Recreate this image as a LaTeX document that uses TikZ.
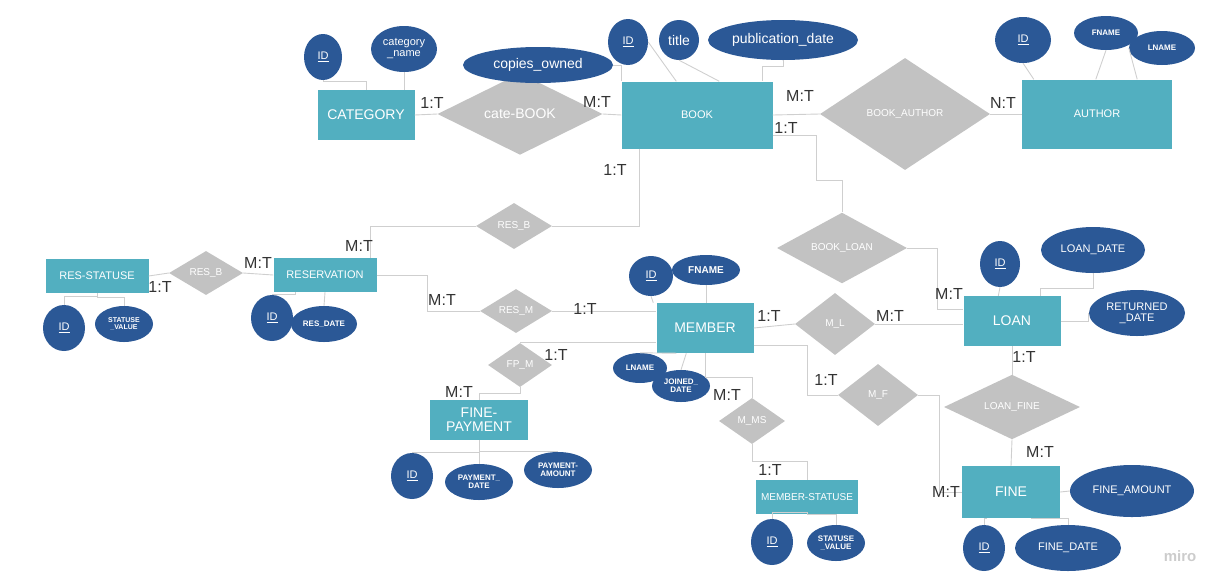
\documentclass[tikz,border=0pt]{standalone}
\usepackage{fontspec}
\setmainfont{Liberation Sans}
\usetikzlibrary{positioning, shapes.geometric, calc}
\definecolor{entcol}{HTML}{52AFC0}
\definecolor{relcol}{HTML}{C2C2C2}
\definecolor{attcol}{HTML}{2B5896}
\definecolor{linecol}{HTML}{CFCFCF}
\definecolor{cardcol}{HTML}{333333}
\newcommand{\fs}[1]{\fontsize{#1}{#1}\selectfont}

\begin{document}
\begin{tikzpicture}[
  x=1pt, y=-1pt,
  ent/.style={rectangle, fill=entcol, text=white, inner sep=0pt, align=center, font=\fs{11}},
  bigent/.style={ent, font=\fs{14}},
  rel/.style={diamond, fill=relcol, text=white, inner sep=0pt, font=\fs{10}},
  att/.style={ellipse, fill=attcol, text=white, inner sep=0pt, align=center, font=\fs{11}},
  smatt/.style={att, font=\fs{8}\bfseries},
  card/.style={text=cardcol, font=\fs{16}, inner sep=0pt},
  link/.style={draw=linecol, line width=0.9pt},
]
\useasboundingbox (0,0) rectangle (1209,574);

% entities
\node[bigent, minimum width=97, minimum height=50] (category) at (366,115) {CATEGORY};
\node[ent, minimum width=151, minimum height=67] (book) at (697,115) {BOOK};
\node[ent, minimum width=150, minimum height=69] (author) at (1097,114) {AUTHOR};
\node[ent, minimum width=103, minimum height=34] (resstatuse) at (97,276) {RES-STATUSE};
\node[ent, minimum width=103, minimum height=34] (reservation) at (325,275) {RESERVATION};
\node[bigent, minimum width=97, minimum height=50] (member) at (705,328) {MEMBER};
\node[bigent, minimum width=97, minimum height=50] (loan) at (1012,321) {LOAN};
\node[bigent, minimum width=98, minimum height=40] (finepay) at (479,420) {FINE-\\PAYMENT};
\node[ent, minimum width=102, minimum height=34, font=\fs{10}] (mstatuse) at (807,497) {MEMBER-STATUSE};
\node[bigent, minimum width=98, minimum height=52] (fine) at (1011,492) {FINE};

% relationships
\node[rel, minimum width=165, minimum height=50, font=\fs{14}] (catebook) at (520,114) {cate-BOOK};
\node[rel, minimum width=170, minimum height=112] (bookauthor) at (905,114) {BOOK\_AUTHOR};
\node[rel, minimum width=76, minimum height=46] (resbtop) at (514,226) {RES\_B};
\node[rel, minimum width=74, minimum height=44] (resbleft) at (206,273) {RES\_B};
\node[rel, minimum width=72, minimum height=44] (resm) at (516,311) {RES\_M};
\node[rel, minimum width=64, minimum height=44] (fpm) at (520,365) {FP\_M};
\node[rel, minimum width=130, minimum height=62] (bookloan) at (842,248) {BOOK\_LOAN};
\node[rel, minimum width=80, minimum height=62] (ml) at (835,324) {M\_L};
\node[rel, minimum width=80, minimum height=62] (mf) at (878,395) {M\_F};
\node[rel, minimum width=136, minimum height=62] (loanfine) at (1012,407) {LOAN\_FINE};
\node[rel, minimum width=66, minimum height=46] (mms) at (752,421) {M\_MS};

% attributes
\node[att, minimum width=38, minimum height=46] (catid) at (323,57) {\underline{ID}};
\node[att, minimum width=66, minimum height=46] (catname) at (404,49) {category\\\_name};
\node[att, minimum width=150, minimum height=36, font=\fs{14}] (copies) at (538,65) {copies\_owned};
\node[att, minimum width=40, minimum height=46] (bookid) at (628,42) {\underline{ID}};
\node[att, minimum width=40, minimum height=40, font=\fs{14}] (title) at (679,40) {title};
\node[att, minimum width=150, minimum height=40, font=\fs{14}] (pubdate) at (783,40) {publication\_date};
\node[att, minimum width=56, minimum height=46] (authid) at (1023,40) {\underline{ID}};
\node[smatt, minimum width=64, minimum height=34] (authfname) at (1106,33) {FNAME};
\node[smatt, minimum width=66, minimum height=34] (authlname) at (1162,48) {LNAME};
\node[att, minimum width=42, minimum height=46] (rsid) at (64,328) {\underline{ID}};
\node[smatt, minimum width=58, minimum height=36, font=\fs{7}\bfseries] (rsvalue) at (124,324) {STATUSE\\\_VALUE};
\node[att, minimum width=42, minimum height=46] (resid) at (272,318) {\underline{ID}};
\node[smatt, minimum width=66, minimum height=36] (resdate) at (324,324) {RES\_DATE};
\node[att, minimum width=44, minimum height=40] (memid) at (651,276) {\underline{ID}};
\node[smatt, minimum width=68, minimum height=30, font=\fs{10}\bfseries] (memfname) at (706,270) {FNAME};
\node[smatt, minimum width=54, minimum height=30] (memlname) at (640,368) {LNAME};
\node[smatt, minimum width=58, minimum height=32] (joined) at (681,386) {JOINED\_\\DATE};
\node[att, minimum width=40, minimum height=46] (loanid) at (1000,264) {\underline{ID}};
\node[att, minimum width=104, minimum height=46] (loandate) at (1093,250) {LOAN\_DATE};
\node[att, minimum width=96, minimum height=46] (retdate) at (1137,313) {RETURNED\\\_DATE};
\node[att, minimum width=42, minimum height=46] (fpid) at (412,476) {\underline{ID}};
\node[smatt, minimum width=68, minimum height=36] (paydate) at (479,482) {PAYMENT\_\\DATE};
\node[smatt, minimum width=68, minimum height=36] (payamount) at (558,470) {PAYMENT-\\AMOUNT};
\node[att, minimum width=42, minimum height=46] (msid) at (772,542) {\underline{ID}};
\node[smatt, minimum width=58, minimum height=36] (msvalue) at (836,543) {STATUSE\\\_VALUE};
\node[att, minimum width=42, minimum height=46] (fineid) at (984,548) {\underline{ID}};
\node[att, minimum width=106, minimum height=46] (finedate) at (1068,548) {FINE\_DATE};
\node[att, minimum width=124, minimum height=52] (fineamount) at (1132,491) {FINE\_AMOUNT};

% relationship links
\draw[link] (category.east) -- (catebook.west);
\draw[link] (catebook.east) -- (book.west);
\draw[link] (book.east) -- (bookauthor.west);
\draw[link] (bookauthor.east) -- (author.west);
\draw[link] ($(book.south west)+(18,0)$) |- (resbtop.east);
\draw[link] (resbtop.west) -| ($(reservation.north)+(45,0)$);
\draw[link] (reservation.west) -- (resbleft.east);
\draw[link] (resbleft.west) -- (resstatuse.east);
\draw[link] (reservation.east) -| ($(resm.west)+(-52,0)$) -- (resm.west);
\draw[link] (resm.east) -- (resm.east -| member.west);
\draw[link] (fpm.north) -- (fpm.north -| member.west);
\draw[link] (fpm.south) -- ++(0,6) -| (finepay.north);
\draw[link] (member.east) -- (ml.west);
\draw[link] (ml.east) -- (ml.east -| loan.west);
\draw[link] ($(member.east)+(0,17)$) -| ($(mf.west)+(-30,0)$) -- (mf.west);
\draw[link] (mf.east) -| ($(fine.west)+(-22,0)$) -- (fine.west);
\draw[link] (member.south) |- ($(mms.north)+(0,-20)$) -- (mms.north);
\draw[link] (mms.south) |- ($(mstatuse.north)+(0,-18)$) -- (mstatuse.north);
\draw[link] ($(book.east)+(0,20)$) -| ($(bookloan.north)+(-26,-32)$) -| (bookloan.north);
\draw[link] (bookloan.east) -| ($(loan.west)+(-26,-12)$) -- ($(loan.west)+(0,-12)$);
\draw[link] (loan.south) -- (loanfine.north);
\draw[link] (loanfine.south) -- (fine.north);

% attribute links
\draw[link] (catid.south) |- ($(category.north)+(0,-8)$) -- (category.north);
\draw[link] (catname.south) -- (catname.south |- category.north);
\draw[link] (copies.east) -| ($(book.north west)+(0,0)$);
\draw[link] (bookid.east) -- ($(book.north west)+(55,0)$);
\draw[link] (title.south) -- ($(book.north west)+(98,0)$);
\draw[link] (pubdate.south) |- ($(book.north east)+(-10,-15)$) -- ($(book.north east)+(-10,0)$);
\draw[link] (authid.south) -- ($(author.north west)+(12,0)$);
\draw[link] (authfname.south) -- ($(author.north west)+(74,0)$);
\draw[link] (authlname.west) -- ($(author.north east)+(-35,0)$);
\draw[link] (resstatuse.south) |- ($(rsid.north)+(0,-8)$) -- (rsid.north);
\draw[link] (resstatuse.south) |- ($(rsvalue.north)+(0,-8)$) -- (rsvalue.north);
\draw[link] ($(reservation.south)+(-30,0)$) |- (resid.north);
\draw[link] (reservation.south) -- (resdate.north);
\draw[link] (memid.south) -- ($(member.north west)+(-3,0)$);
\draw[link] (memfname.south) -- (memfname.south |- member.north);
\draw[link] ($(member.south west)+(20,0)$) -- (memlname.north);
\draw[link] ($(member.south west)+(30,0)$) -- (joined.north);
\draw[link] (loanid.south) -- ($(loan.north west)+(35,0)$);
\draw[link] (loandate.south) |- ($(loan.north east)+(-20,-7)$) -- ($(loan.north east)+(-20,0)$);
\draw[link] (loan.east) -| (retdate.west);
\draw[link] (finepay.south) |- (fpid.north);
\draw[link] (finepay.south) -- (paydate.north);
\draw[link] (finepay.south) |- (payamount.north);
\draw[link] (mstatuse.south) |- ($(msid.north)+(0,-6)$) -- (msid.north);
\draw[link] (mstatuse.south) -| (msvalue.north);
\draw[link] ($(fine.south west)+(25,0)$) |- ($(fineid.north)+(0,-6)$) -- (fineid.north);
\draw[link] ($(fine.south west)+(70,0)$) |- ($(finedate.north)+(0,-6)$) -- (finedate.north);
\draw[link] (fine.east) -- (fineamount.west);

% cardinalities
\node[card] (c1) at (432,103) {1:T};
\node[card] (c2) at (597,102) {M:T};
\node[card] (c3) at (800,96) {M:T};
\node[card] (c4) at (786,128) {1:T};
\node[card] (c5) at (1003,103) {N:T};
\node[card] (c6) at (615,170) {1:T};
\node[card] (c7) at (359,246) {M:T};
\node[card] (c8) at (258,263) {M:T};
\node[card] (c9) at (160,287) {1:T};
\node[card] (c10) at (442,300) {M:T};
\node[card] (c11) at (585,309) {1:T};
\node[card] (c12) at (556,355) {1:T};
\node[card] (c13) at (459,392) {M:T};
\node[card] (c14) at (769,316) {1:T};
\node[card] (c15) at (890,316) {M:T};
\node[card] (c16) at (826,380) {1:T};
\node[card] (c17) at (949,294) {M:T};
\node[card] (c18) at (1024,357) {1:T};
\node[card] (c19) at (727,395) {M:T};
\node[card] (c20) at (770,470) {1:T};
\node[card] (c21) at (1040,452) {M:T};
\node[card] (c22) at (946,492) {M:T};

\node[text=gray!40, font=\fs{15}\bfseries] (miro) at (1180,556) {miro};
\end{tikzpicture}
\end{document}
